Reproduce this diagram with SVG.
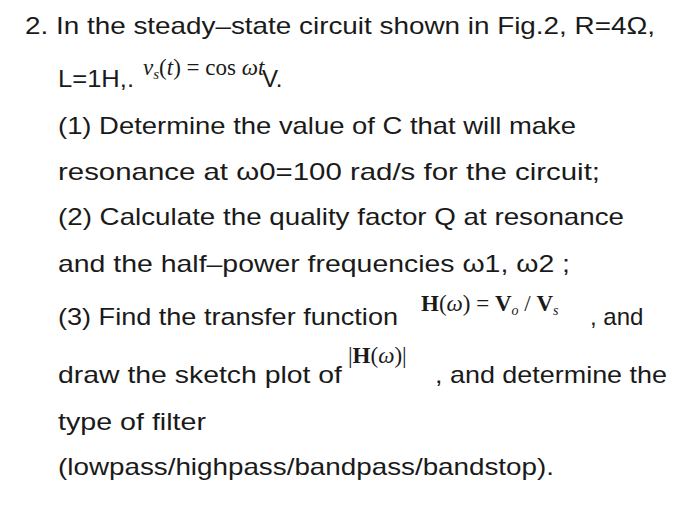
<svg xmlns="http://www.w3.org/2000/svg" width="700" height="520" viewBox="0 0 700 520">
<style>
.t{font-family:"Liberation Sans","DejaVu Sans",sans-serif;font-size:24px;fill:#1a1a1a}
.m{font-family:"Liberation Serif","DejaVu Serif",serif;font-size:23px;fill:#1a1a1a}
.b{font-weight:bold}
.i{font-style:italic}
</style>
<rect width="700" height="520" fill="#fff"/>
<text class="t" x="25" y="34" textLength="630" lengthAdjust="spacingAndGlyphs">2. In the steady–state circuit shown in Fig.2, R=4Ω,</text>
<text class="t" x="58" y="87" textLength="76" lengthAdjust="spacingAndGlyphs">L=1H,.</text>
<text class="m" x="143" y="75"><tspan class="i">v</tspan><tspan font-size="15" class="i" dy="4">s</tspan><tspan dy="-4">(</tspan><tspan class="i">t</tspan>) = cos <tspan class="i">ωt</tspan></text>
<text class="t" x="262" y="87">V.</text>
<text class="t" x="58" y="134" textLength="518" lengthAdjust="spacingAndGlyphs">(1) Determine the value of C that will make</text>
<text class="t" x="58" y="180" textLength="542" lengthAdjust="spacingAndGlyphs">resonance at ω0=100 rad/s for the circuit;</text>
<text class="t" x="58" y="225" textLength="566" lengthAdjust="spacingAndGlyphs">(2) Calculate the quality factor Q at resonance</text>
<text class="t" x="58" y="272" textLength="512" lengthAdjust="spacingAndGlyphs">and the half–power frequencies ω1, ω2 ;</text>
<text class="t" x="58" y="325" textLength="340" lengthAdjust="spacingAndGlyphs">(3) Find the transfer function</text>
<text class="m" x="421" y="311"><tspan class="b">H</tspan>(<tspan class="i">ω</tspan>) = <tspan class="b">V</tspan><tspan font-size="14" class="i" dy="4">o</tspan><tspan dy="-4"> / </tspan><tspan class="b">V</tspan><tspan font-size="14" class="i" dy="4">s</tspan></text>
<text class="t" x="590" y="325">, and</text>
<text class="t" x="58" y="383" textLength="284" lengthAdjust="spacingAndGlyphs">draw the sketch plot of</text>
<text class="m" x="348" y="363" font-size="25">|<tspan class="b">H</tspan>(<tspan class="i">ω</tspan>)|</text>
<text class="t" x="435" y="383" textLength="232" lengthAdjust="spacingAndGlyphs">, and determine the</text>
<text class="t" x="58" y="430" textLength="148" lengthAdjust="spacingAndGlyphs">type of filter</text>
<text class="t" x="58" y="475" textLength="496" lengthAdjust="spacingAndGlyphs">(lowpass/highpass/bandpass/bandstop).</text>
</svg>
